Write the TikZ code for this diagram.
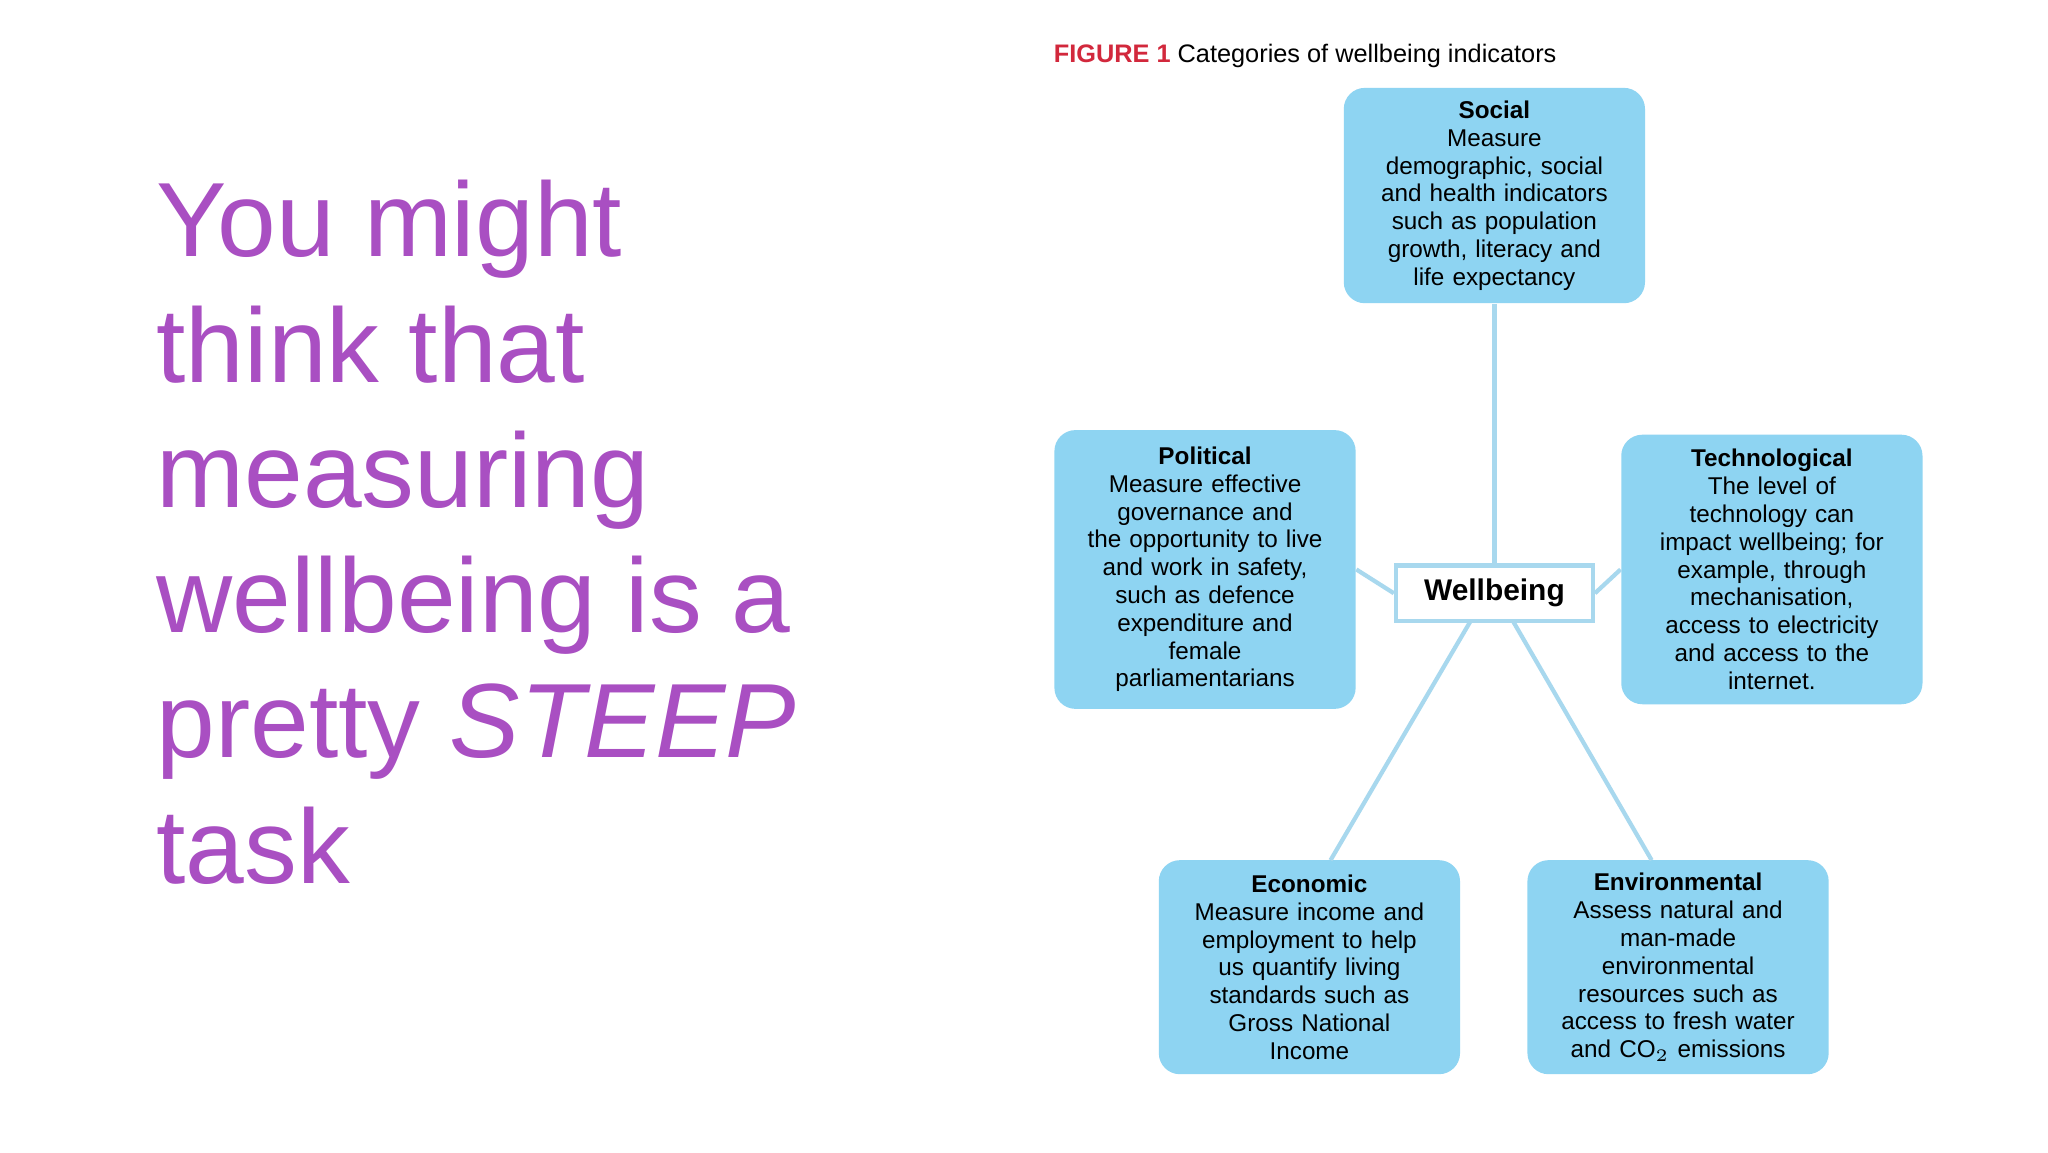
\documentclass[tikz,border=0pt]{standalone}
\usepackage{fontspec}
\setmainfont{Liberation Sans}
\definecolor{boxc}{HTML}{8ED4F2}
\definecolor{linec}{HTML}{A8D8EE}
\definecolor{purp}{HTML}{A94FC2}
\definecolor{figred}{HTML}{D2283C}
\begin{document}
\begin{tikzpicture}[x=0.0132cm,y=-0.0132cm,
  cat/.style={draw=none,fill=boxc,rounded corners=6pt,minimum width=228*0.0132cm,text width=222*0.0132cm,align=center,font=\fontsize{6.9}{7.9}\selectfont,inner sep=0pt},
  conn/.style={draw=linec,line width=1.2pt}]
\useasboundingbox (0,0) rectangle (1550,872);
\fill[white] (0,0) rectangle (1550,872);
\node[anchor=north west,text=purp,align=left,font=\fontsize{30}{35.6}\selectfont,inner sep=0pt] (left) at (118,136)
 {You might\\think that\\measuring\\wellbeing is a\\pretty \textit{STEEP}\\task};
\node[anchor=west,inner sep=0pt,font=\fontsize{7.2}{8}\selectfont] (title) at (797,42)
 {\textcolor{figred}{\textbf{FIGURE 1}} Categories of wellbeing indicators};
\node[cat,minimum height=163*0.0132cm] (soc) at (1131,148) {\textbf{Social}\\Measure\\demographic, social\\and health indicators\\such as population\\growth, literacy and\\life expectancy};
\node[cat,minimum height=211*0.0132cm] (pol) at (912,431) {\textbf{Political}\\Measure effective\\governance and\\the opportunity to live\\and work in safety,\\such as defence\\expenditure and\\female\\parliamentarians};
\node[cat,minimum height=204*0.0132cm] (tec) at (1341,431) {\textbf{Technological}\\The level of\\technology can\\impact wellbeing; for\\example, through\\mechanisation,\\access to electricity\\and access to the\\internet.};
\node[cat,minimum height=162*0.0132cm] (eco) at (991,732) {\textbf{Economic}\\Measure income and\\employment to help\\us quantify living\\standards such as\\Gross National\\Income};
\node[cat,minimum height=162*0.0132cm] (env) at (1270,732) {\textbf{Environmental}\\Assess natural and\\man-made\\environmental\\resources such as\\access to fresh water\\and CO$_2$ emissions};
\node[draw=linec,line width=1.2pt,fill=white,minimum width=149*0.0132cm,minimum height=42*0.0132cm,font=\fontsize{8.5}{10}\selectfont\bfseries] (wb) at (1131,449) {Wellbeing};
\coordinate (wbl) at (1113,470);
\coordinate (wbr) at (1145,470);
\coordinate (ecot) at (1007,651);
\coordinate (envt) at (1250,651);
\draw[conn] (soc.south) -- (wb.north);
\draw[conn] (pol.east) -- (wb.west);
\draw[conn] (tec.west) -- (wb.east);
\draw[conn] (wbl) -- (ecot);
\draw[conn] (wbr) -- (envt);
\end{tikzpicture}
\end{document}
